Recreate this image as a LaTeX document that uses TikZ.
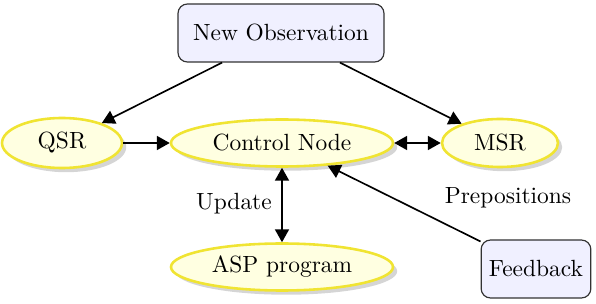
\documentclass[tikz,border=0pt]{standalone}
\usepackage{xcolor}
\usepackage{tikz}
\usetikzlibrary{arrows.meta,shapes.geometric,shadows}
\definecolor{yfill}{RGB}{255, 255, 225}
\definecolor{yline}{RGB}{240, 228, 50}
\definecolor{bfill}{RGB}{240, 240, 255}

\begin{document}
\begin{tikzpicture}[
  statenode/.style={ellipse, draw=yline, line width=1.1pt, fill=yfill, inner sep=1pt,
    drop shadow={shadow xshift=1.8pt, shadow yshift=-1.8pt, fill=gray!65}},
  inputbox/.style={rectangle, rounded corners=4pt, draw=black!80, fill=bfill, line width=0.5pt,
    minimum width=3.09cm, minimum height=0.87cm},
  link/.style={line width=0.7pt, -{Triangle[length=5.5pt,width=6pt]}},
  twolink/.style={line width=0.7pt, {Triangle[length=5.5pt,width=6pt]}-{Triangle[length=5.5pt,width=6pt]}}]
\useasboundingbox (0,0) rectangle (8.94,4.56);
% Entradas (caixas)
\node[inputbox] (obs) at (4.215,4.065) {New Observation};
\node[inputbox, minimum width=1.6cm] (fb) at (8.04,0.525) {Feedback};
% Nos elipticos
\node[statenode, minimum width=1.8cm, minimum height=0.75cm] (qsr) at (0.93,2.415) {QSR};
\node[statenode, minimum width=3.33cm, minimum height=0.705cm] (ctrl) at (4.23,2.415) {Control Node};
\node[statenode, minimum width=1.74cm, minimum height=0.72cm] (msr) at (7.5,2.415) {MSR};
\node[statenode, minimum width=3.33cm, minimum height=0.705cm] (asp) at (4.23,0.555) {ASP program};
% Arestas
\draw[link] (obs) -- (qsr);
\draw[link] (obs) -- (msr);
\draw[link] (qsr) -- (ctrl);
\draw[twolink] (ctrl) -- (msr);
\draw[twolink] (ctrl) -- (asp);
\draw[link] (fb) -- (ctrl);
% Rotulos
\node (upd) at (3.51,1.5) {Update};
\node (prep) at (7.62,1.59) {Prepositions};
\end{tikzpicture}
\end{document}
